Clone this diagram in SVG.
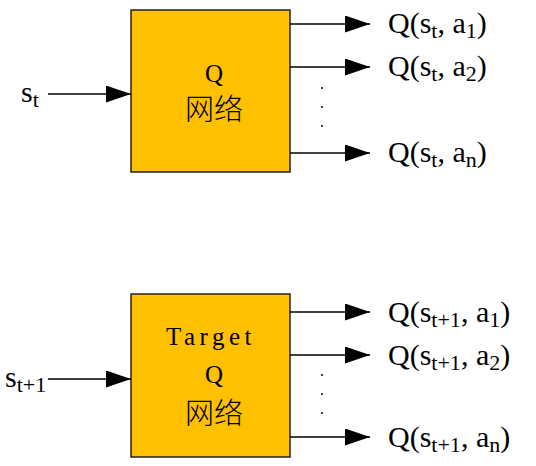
<svg xmlns="http://www.w3.org/2000/svg" width="536" height="466" viewBox="0 0 536 466">
<defs>
<marker id="ah" markerWidth="26" markerHeight="18" refX="25" refY="8.5" orient="auto" markerUnits="userSpaceOnUse">
<path d="M0,0 L25,8.5 L0,17 Z" fill="#000"/>
</marker>
<style>
.box{fill:#FFC000;stroke:#222;stroke-width:1.5}
.ln{stroke:#000;stroke-width:1.5;fill:none;marker-end:url(#ah)}
.lbl{font-family:"Liberation Serif","Times New Roman",serif;font-size:30px;fill:#000}
.sub{font-size:22px}
.in{font-family:"Liberation Serif","Noto Sans CJK SC",serif;font-size:25px;fill:#000;text-anchor:middle}
.cn{font-family:"Noto Sans CJK SC",sans-serif;font-size:29px;fill:#000;text-anchor:middle;font-weight:300}
.dot{fill:#000}
</style>
</defs>
<rect width="536" height="466" fill="#fff"/>
<g id="qnet">
<rect class="box" x="131" y="10" width="159" height="162"/>
<text class="in" x="214" y="82">Q</text>
<text class="cn" x="214" y="120">网络</text>
</g>
<g id="tnet">
<rect class="box" x="131" y="294" width="159" height="163"/>
<text class="in" x="211" y="345" style="letter-spacing:4.5px">Target</text>
<text class="in" x="214" y="383">Q</text>
<text class="cn" x="214" y="424">网络</text>
</g>
<g id="connectors">
<line class="ln" x1="48" y1="94" x2="131" y2="94"/>
<line class="ln" x1="290" y1="24" x2="370" y2="24"/>
<line class="ln" x1="290" y1="67" x2="370" y2="67"/>
<line class="ln" x1="290" y1="153" x2="370" y2="153"/>
<line class="ln" x1="48" y1="379" x2="131" y2="379"/>
<line class="ln" x1="290" y1="312" x2="370" y2="312"/>
<line class="ln" x1="290" y1="355" x2="370" y2="355"/>
<line class="ln" x1="290" y1="437" x2="370" y2="437"/>
</g>
<g id="dots">
<circle class="dot" cx="322" cy="88" r="1"/>
<circle class="dot" cx="322" cy="107" r="1"/>
<circle class="dot" cx="322" cy="126" r="1"/>
<circle class="dot" cx="322" cy="375" r="1"/>
<circle class="dot" cx="322" cy="394" r="1"/>
<circle class="dot" cx="322" cy="413" r="1"/>
</g>
<g id="labels">
<text class="lbl" x="21" y="102">s<tspan class="sub" dy="5">t</tspan></text>
<text class="lbl" x="5" y="387">s<tspan class="sub" dy="5">t+1</tspan></text>
<text class="lbl" x="388" y="33">Q(s<tspan class="sub" dy="5">t</tspan><tspan dy="-5">, a</tspan><tspan class="sub" dy="5">1</tspan><tspan dy="-5">)</tspan></text>
<text class="lbl" x="388" y="76">Q(s<tspan class="sub" dy="5">t</tspan><tspan dy="-5">, a</tspan><tspan class="sub" dy="5">2</tspan><tspan dy="-5">)</tspan></text>
<text class="lbl" x="388" y="162">Q(s<tspan class="sub" dy="5">t</tspan><tspan dy="-5">, a</tspan><tspan class="sub" dy="5">n</tspan><tspan dy="-5">)</tspan></text>
<text class="lbl" x="388" y="322">Q(s<tspan class="sub" dy="5">t+1</tspan><tspan dy="-5">, a</tspan><tspan class="sub" dy="5">1</tspan><tspan dy="-5">)</tspan></text>
<text class="lbl" x="388" y="365">Q(s<tspan class="sub" dy="5">t+1</tspan><tspan dy="-5">, a</tspan><tspan class="sub" dy="5">2</tspan><tspan dy="-5">)</tspan></text>
<text class="lbl" x="388" y="447">Q(s<tspan class="sub" dy="5">t+1</tspan><tspan dy="-5">, a</tspan><tspan class="sub" dy="5">n</tspan><tspan dy="-5">)</tspan></text>
</g>
</svg>
